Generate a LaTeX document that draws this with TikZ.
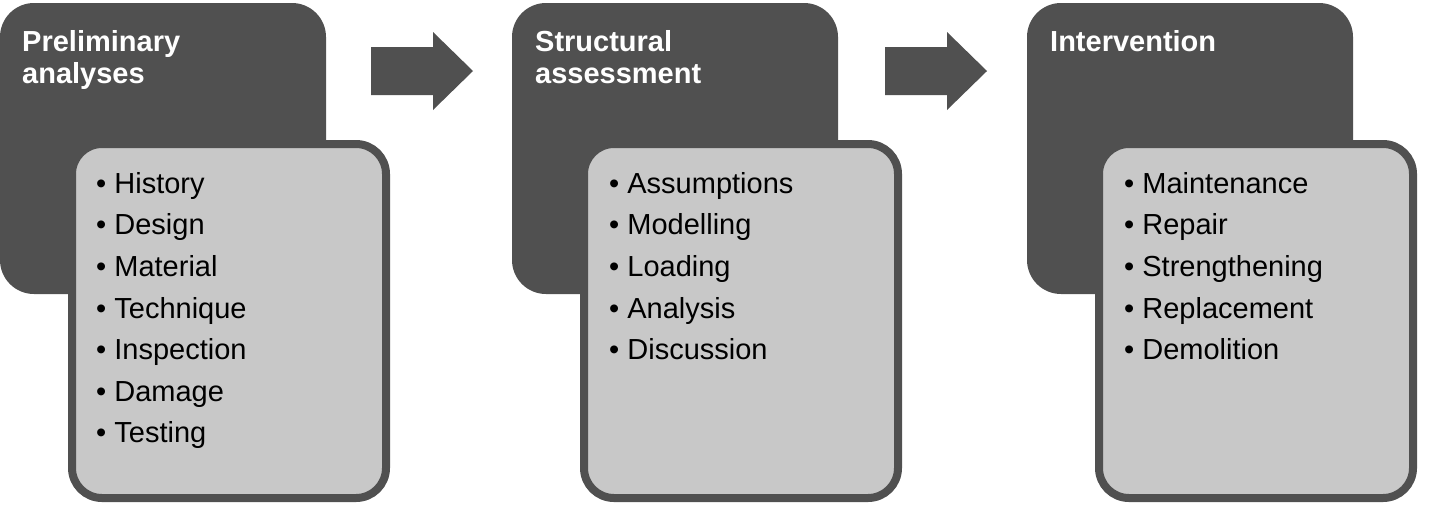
\documentclass[tikz,border=0pt]{standalone}
\usepackage{fontspec}
\setmainfont{Liberation Sans}
\begin{document}
\begin{tikzpicture}[x=1pt,y=-1pt,
  dark/.style={fill=dk,draw=none,rounded corners=34pt},
  light/.style={fill=lt,draw=dk,line width=8pt,rounded corners=30pt},
  ttl/.style={anchor=north west,text=white,font=\fontsize{29}{33}\selectfont\bfseries,align=left,inner sep=0pt},
  lst/.style={anchor=north west,font=\fontsize{29}{41.6}\selectfont,align=left,inner sep=0pt},
  barrow/.style={fill=dk}]
\definecolor{dk}{HTML}{505050}
\definecolor{lt}{HTML}{C8C8C8}
\useasboundingbox (0,0) rectangle (1447,504);
\foreach \x/\n in {0/a,512/b,1027/c}{
  \fill[dark] (\x,3) rectangle ++(326,291);
  \draw[light] (\x+72,144) rectangle (\x+386,498);
}
\foreach \x/\n in {371/p,885/q}{
  \fill[barrow] (\x,47) -- (\x+62,47) -- (\x+62,32) -- (\x+102,71) -- (\x+62,110) -- (\x+62,95) -- (\x,95) -- cycle;
}
\node[ttl] (t1) at (22,30) {Preliminary\\[-1pt]analyses};
\node[ttl] (t2) at (535,30) {Structural\\[-1pt]assessment};
\node[ttl] (t3) at (1050,30) {Intervention};
\node[lst] (l1) at (96,172) {• History\\• Design\\• Material\\• Technique\\• Inspection\\• Damage\\• Testing};
\node[lst] (l2) at (609,172) {• Assumptions\\• Modelling\\• Loading\\• Analysis\\• Discussion};
\node[lst] (l3) at (1124,172) {• Maintenance\\• Repair\\• Strengthening\\• Replacement\\• Demolition};
\end{tikzpicture}
\end{document}
